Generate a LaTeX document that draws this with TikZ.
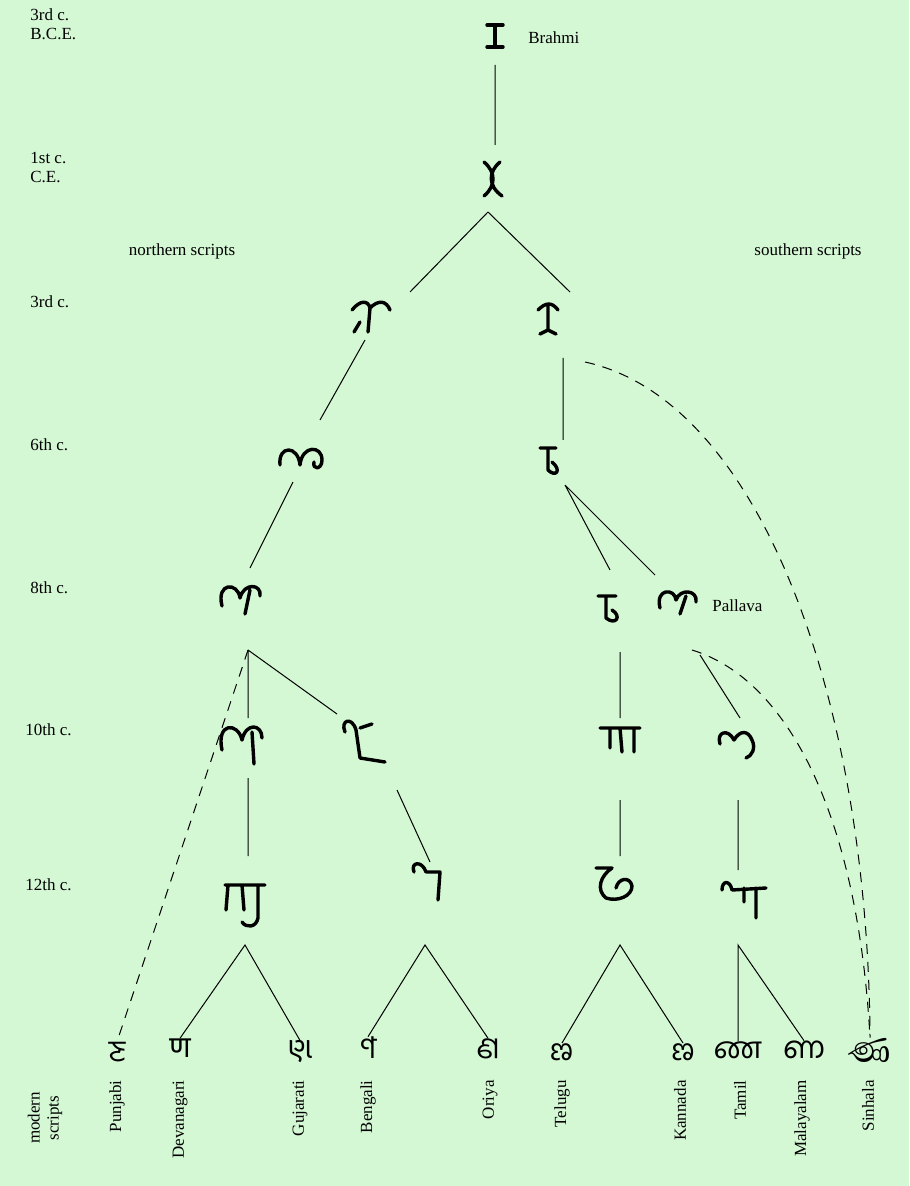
\documentclass[tikz,border=0pt]{standalone}
\usepackage{fontspec}
\setmainfont{Liberation Serif}
\newfontfamily\fgurm[Script=Gurmukhi]{Hind Jalandhar}
\newfontfamily\fdeva[Script=Devanagari]{Noto Sans}
\newfontfamily\fgujr[Script=Gujarati]{Noto Sans Gujarati UI}
\newfontfamily\fbeng[Script=Bengali]{Hind Siliguri}
\newfontfamily\forya[Script=Oriya]{Noto Sans Oriya UI}
\newfontfamily\ftelu[Script=Telugu]{Hind Guntur}
\newfontfamily\fknda[Script=Kannada]{Hind Mysuru}
\newfontfamily\ftaml[Script=Tamil]{Hind Madurai}
\newfontfamily\fmlym[Script=Malayalam]{Hind Kochi}
\newfontfamily\fsinh[Script=Sinhala]{Abhaya Libre}
\definecolor{bg}{RGB}{212,247,212}
\begin{document}
\begin{tikzpicture}[x=0.5pt,y=-0.5pt,
  lab/.style={font=\fontsize{8.5}{9.5}\selectfont,align=left,inner sep=0},
  mod/.style={font=\fontsize{15}{16}\selectfont,inner sep=0},
  rot/.style={font=\fontsize{8.5}{9.5}\selectfont,rotate=90,anchor=east,inner sep=0},
  gl/.style={line width=1.7pt,line cap=round,line join=round},
  ln/.style={line width=0.5pt},
  dl/.style={line width=0.5pt,dash pattern=on 5pt off 4pt}]
\fill[bg] (0,0) rectangle (909,1186);
\useasboundingbox (0,0) rectangle (909,1186);
% dates
\node[lab,anchor=north west] (d0) at (30,8) {3rd c.\\B.C.E.};
\node[lab,anchor=north west] (d1) at (30,152) {1st c.\\C.E.};
\node[lab,anchor=west] (d2) at (30,302) {3rd c.};
\node[lab,anchor=west] (d3) at (30,445) {6th c.};
\node[lab,anchor=west] (d4) at (30,588) {8th c.};
\node[lab,anchor=west] (d5) at (25,730) {10th c.};
\node[lab,anchor=west] (d6) at (25,885) {12th c.};
\node[rot,align=center,anchor=center] (dm) at (45,1118) {modern\\scripts};
\node[lab] (hn) at (182,251) {northern scripts};
\node[lab] (hs) at (808,251) {southern scripts};
\node[lab,anchor=west] (lb) at (528,38) {Brahmi};
\node[lab,anchor=west] (lp) at (712,606) {Pallava};
% historical glyphs (sketched)
\draw[gl] (487,25)--(503,25) (495,25)--(495,47) (487,47)--(503,47);
\draw[gl] (484,162) .. controls (496,172) and (496,186) .. (484,196) (500,162) .. controls (488,172) and (488,186) .. (502,196);
\draw[gl] (352,310) .. controls (360,300) and (368,300) .. (370,308) .. controls (378,300) and (386,300) .. (390,310) (370,308)--(368,332) (354,332)--(360,322);
\draw[gl] (538,310)..controls (546,302) and (552,302) .. (558,310) (548,306)--(548,330) (540,334)--(548,330)--(556,334);
\draw[gl] (280,465) .. controls (278,445) and (298,445) .. (300,465) .. controls (302,445) and (322,445) .. (322,460) .. controls (322,470) and (312,470) .. (314,462);
\draw[gl] (540,448)--(556,448) (548,448)--(548,470) .. controls (556,478) and (562,470) .. (552,462);
\draw[gl] (222,606) .. controls (216,582) and (238,582) .. (240,598) .. controls (244,582) and (262,584) .. (260,596) (250,590)--(245,614);
\draw[gl] (598,596)--(616,596) (606,596)--(606,618) .. controls (616,626) and (622,616) .. (612,610);
\draw[gl] (660,608) .. controls (655,588) and (675,588) .. (676,600) .. controls (680,588) and (698,590) .. (696,602) (686,596)--(680,614);
\draw[gl] (222,750) .. controls (216,722) and (238,722) .. (242,740) .. controls (246,722) and (262,724) .. (262,738) (252,732)--(254,764);
\draw[gl] (345,732) .. controls (340,720) and (352,716) .. (356,730) (356,730)--(360,758)--(385,762) (360,728)--(372,724);
\draw[gl] (600,728)--(640,728) (610,728)--(610,748)(620,728)--(622,752) (634,728)--(634,752);
\draw[gl] (720,744) .. controls (716,732) and (728,728) .. (734,740) .. controls (740,730) and (748,730) .. (752,740) .. controls (756,748) and (752,756) .. (746,758);
\draw[gl] (225,885)--(265,885) (228,885)--(226,910)(242,885)--(244,910) (258,885)--(258,918) .. controls (256,928) and (246,928) .. (242,922);
\draw[gl] (414,872) .. controls (410,862) and (422,860) .. (426,872) (426,872)--(440,872)--(438,900);
\draw[gl] (596,868)--(612,868) .. controls (600,876) and (596,890) .. (606,898) .. controls (618,902) and (632,896) .. (632,886) .. controls (630,876) and (618,878) .. (616,888);
\draw[gl] (722,890) .. controls (722,880) and (730,880) .. (732,890) (732,890)--(766,888) (744,888)--(744,902) (756,888)--(756,918);
% modern glyphs
\node[mod] (pu) at (117,1052) {\fgurm ਣ};
\node[mod] (de) at (180,1048) {\fdeva ण};
\node[mod] (gu) at (300,1052) {\fgujr ણ};
\node[mod] (be) at (368,1048) {\fbeng ণ};
\node[mod] (or) at (488,1050) {\forya ଣ};
\node[mod] (te) at (562,1052) {\ftelu ణ};
\node[mod] (ka) at (683,1052) {\fknda ಣ};
\node[mod] (ta) at (738,1050) {\ftaml ண};
\node[mod] (ml) at (804,1050) {\fmlym ണ};
\node[mod,font=\fontsize{24}{24}\selectfont] (si) at (870,1050) {\fsinh ණ};
% modern labels
\foreach \x/\t/\n in {117/Punjabi/lpu,180/Devanagari/lde,300/Gujarati/lgu,368/Bengali/lbe,490/Oriya/lor,562/Telugu/lte,680/Kannada/lka,740/Tamil/lta,802/Malayalam/lml,868/Sinhala/lsi}
  \node[rot] (\n) at (\x,1080) {\t};
% connection points
\coordinate (a0) at (495,65); \coordinate (a1) at (495,145);
\coordinate (b0) at (488,212); \coordinate (b1) at (410,292); \coordinate (b2) at (570,292);
\coordinate (c0) at (365,340); \coordinate (c1) at (320,420);
\coordinate (e0) at (563,358); \coordinate (e1) at (563,440);
\coordinate (f0) at (293,482); \coordinate (f1) at (250,568);
\coordinate (g0) at (565,485); \coordinate (g1) at (610,570); \coordinate (g2) at (655,575);
\coordinate (h0) at (248,650); \coordinate (h1) at (248,718); \coordinate (h2) at (337,714);
\coordinate (i0) at (620,652); \coordinate (i1) at (620,718);
\coordinate (j0) at (700,655); \coordinate (j1) at (740,718);
\coordinate (k0) at (248,778); \coordinate (k1) at (248,856);
\coordinate (l0) at (397,790); \coordinate (l1) at (430,862);
\coordinate (m0) at (620,800); \coordinate (m1) at (620,856);
\coordinate (n0) at (738,800); \coordinate (n1) at (738,870);
\coordinate (p0) at (245,945); \coordinate (q0) at (425,945); \coordinate (r0) at (620,945); \coordinate (s0) at (738,945);
\draw[ln] (a0)--(a1) (b0)--(b1) (b0)--(b2) (c0)--(c1) (e0)--(e1) (f0)--(f1)
  (g0)--(g1) (g0)--(g2) (h0)--(h1) (h0)--(h2) (i0)--(i1) (j0)--(j1) (k0)--(k1)
  (l0)--(l1) (m0)--(m1) (n0)--(n1);
\draw[ln] (de.north)--(p0)--(gu.north) (be.north)--(q0)--(or.north)
  (te.north)--(r0)--(ka.north) (ta.north)--(s0)--(ml.north);
\coordinate (x0) at (585,362); \coordinate (x1) at (692,650);
\draw[dl] (h0)--(pu.north);
\draw[dl] (x0) .. controls (760,400) and (868,700) .. (si.north);
\draw[dl] (x1) .. controls (790,680) and (858,820) .. (si.north);
\end{tikzpicture}
\end{document}
